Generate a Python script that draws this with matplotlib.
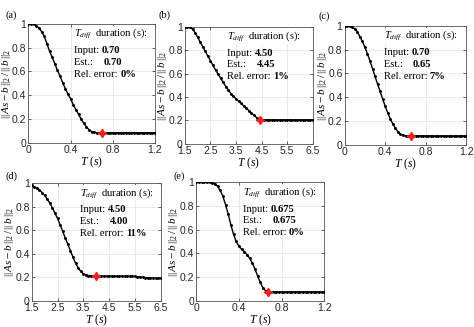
import numpy as np
import matplotlib
matplotlib.use('Agg')
import matplotlib.pyplot as plt

plt.rcParams['font.family'] = ['Liberation Sans', 'DejaVu Sans']
plt.rcParams['mathtext.fontset'] = 'custom'
plt.rcParams['mathtext.rm'] = 'Liberation Serif'
plt.rcParams['mathtext.it'] = 'Liberation Serif:italic'
plt.rcParams['mathtext.bf'] = 'Liberation Serif:bold'

SERIF = 'Liberation Serif'

# ---- data ----
t_short = np.round(np.arange(0, 1.2001, 0.025), 3)
t_long = np.round(np.arange(1.5, 6.5001, 0.1), 2)

res_a = [1.0, 1.0, 0.995, 0.985, 0.965, 0.935, 0.895, 0.835, 0.77, 0.72,
         0.665, 0.61, 0.56, 0.505, 0.455, 0.41, 0.37, 0.32, 0.28, 0.24,
         0.2, 0.165, 0.135, 0.11, 0.095, 0.088, 0.085] + [0.085] * 22

res_b = [1.0, 1.0, 0.995, 0.98, 0.95, 0.91, 0.87, 0.83, 0.79, 0.75,
         0.71, 0.67, 0.63, 0.595, 0.56, 0.525, 0.49, 0.46, 0.43, 0.405,
         0.385, 0.365, 0.345, 0.325, 0.305, 0.285, 0.265, 0.245, 0.225, 0.21,
         0.205] + [0.205] * 20

res_c = [1.0, 1.0, 1.0, 0.99, 0.975, 0.95, 0.91, 0.87, 0.82, 0.765,
         0.705, 0.64, 0.575, 0.51, 0.45, 0.385, 0.325, 0.27, 0.22, 0.175,
         0.14, 0.11, 0.09, 0.08, 0.076] + [0.075] * 24

res_d = [0.98, 0.97, 0.955, 0.94, 0.92, 0.895, 0.865, 0.83, 0.79, 0.745,
         0.70, 0.645, 0.59, 0.535, 0.48, 0.425, 0.37, 0.32, 0.28, 0.25,
         0.23, 0.22, 0.215, 0.21, 0.21, 0.21, 0.21, 0.21, 0.21, 0.21,
         0.21, 0.21, 0.21, 0.21, 0.21, 0.21, 0.21, 0.21, 0.21, 0.21,
         0.208, 0.205, 0.203, 0.2, 0.198, 0.196, 0.195, 0.193, 0.192, 0.19,
         0.19]

res_e = [1.0, 1.0, 1.0, 1.0, 1.0, 1.0, 0.995, 0.985, 0.965, 0.93,
         0.88, 0.81, 0.73, 0.64, 0.56, 0.5, 0.46, 0.435, 0.415, 0.39,
         0.36, 0.32, 0.27, 0.21, 0.155, 0.11, 0.085, 0.075] + [0.075] * 21

est_t = [0.70, 4.45, 0.65, 4.00, 0.675]
est_y = [0.085, 0.205, 0.075, 0.21, 0.075]
inputs = ['0.70', '4.50', '0.70', '4.50', '0.675']
ests = ['0.70', '4.45', '0.65', '4.00', '0.675']
errors = ['0%', '1%', '7%', '11%', '0%']
tags = ['(a)', '(b)', '(c)', '(d)', '(e)']

short_ticks = [0, 0.4, 0.8, 1.2]
short_labels = ['0', '0.4', '0.8', '1.2']
long_ticks = [1.5, 2.5, 3.5, 4.5, 5.5, 6.5]
long_labels = ['1.5', '2.5', '3.5', '4.5', '5.5', '6.5']
y_ticks = [0, 0.2, 0.4, 0.6, 0.8, 1]
y_labels = ['0', '0.2', '0.4', '0.6', '0.8', '1']

panels = [
    (t_short, res_a, [0.060, 0.563, 0.267, 0.364], 0.36, (0.012, 0.955)),
    (t_long, res_b, [0.390, 0.560, 0.270, 0.358], 0.33, (0.335, 0.955)),
    (t_short, res_c, [0.727, 0.557, 0.257, 0.364], 0.32, (0.672, 0.950)),
    (t_long, res_d, [0.067, 0.080, 0.272, 0.360], 0.375, (0.012, 0.462)),
    (t_short, res_e, [0.414, 0.080, 0.270, 0.363], 0.365, (0.365, 0.462)),
]

fig = plt.figure(figsize=(4.74, 3.27), dpi=100)

for i, (t, r, pos, tx, tagpos) in enumerate(panels):
    ax = fig.add_axes(pos)
    ax.plot(t, r, color='black', lw=1.0, marker='.', ms=2.2, zorder=3)
    ax.plot(est_t[i], est_y[i], marker=(4, 1, 0), color='#ff1a1a', ms=6,
            mec='#ff1a1a', zorder=4)
    ax.set_xlim(t[0], t[-1])
    ax.set_ylim(0, 1)
    if t[0] == 0:
        ax.set_xticks(short_ticks)
        ax.set_xticklabels(short_labels)
    else:
        ax.set_xticks(long_ticks)
        ax.set_xticklabels(long_labels)
    ax.set_yticks(y_ticks)
    ax.set_yticklabels(y_labels)
    ax.grid(True, color='#e6e6e6', lw=0.6)
    ax.set_axisbelow(True)
    ax.tick_params(direction='in', length=2, width=0.5, labelsize=7.5,
                   top=True, right=True, pad=1.5, colors='#262626')
    for s in ax.spines.values():
        s.set_linewidth(0.6)
        s.set_color('#555555')
    ax.set_xlabel(r'$T\ (s)$', fontsize=8.5, labelpad=-0.5)
    ax.set_ylabel(r'$||\,As-b\,||_2\,/\,||\,b\,||_2$', fontsize=8,
                  labelpad=-0.5)

    # annotation block: plain label followed by a bold value
    ax.text(tx, 0.92, r'$T_{diff}$  duration (s):', transform=ax.transAxes,
            family=SERIF, fontsize=7.6, va='center', ha='left', zorder=5,
            bbox=dict(facecolor='white', edgecolor='none', pad=0.6))
    rows = [('Input: ', inputs[i], 0.752), ('Est.:    ', ests[i], 0.655),
            ('Rel. error: ', errors[i], 0.555)]
    for lab, val, yy in rows:
        tl = ax.text(tx, yy, lab, transform=ax.transAxes, family=SERIF,
                     fontsize=7.6, va='baseline', ha='left', zorder=5)
        ax.annotate(val, xy=(1, 0), xycoords=tl, va='bottom', ha='left',
                    family=SERIF, fontsize=7.6, fontweight='bold', zorder=5)

    fig.text(tagpos[0], tagpos[1], tags[i], family=SERIF, fontsize=7.5,
             va='center', ha='left')

fig.savefig('out.png', dpi=100)
